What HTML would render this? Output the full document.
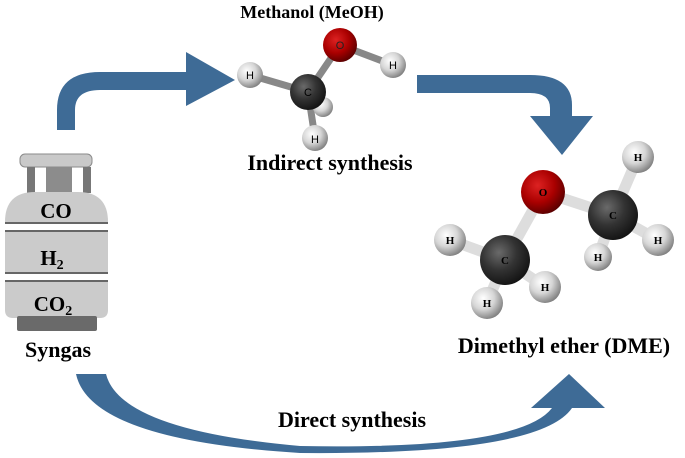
<!DOCTYPE html>
<html><head><meta charset="utf-8"><style>
html,body{margin:0;padding:0;background:#fff;width:685px;height:458px;overflow:hidden}
</style></head><body>
<svg width="685" height="458" viewBox="0 0 685 458" xmlns="http://www.w3.org/2000/svg" font-family="Liberation Serif, serif" font-weight="bold">
<defs>
<radialGradient id="gH" cx="0.38" cy="0.35" r="0.7"><stop offset="0" stop-color="#ffffff"/><stop offset="0.5" stop-color="#d6d6d6"/><stop offset="1" stop-color="#7a7a7a"/></radialGradient>
<radialGradient id="gC" cx="0.38" cy="0.35" r="0.7"><stop offset="0" stop-color="#6a6a6a"/><stop offset="0.5" stop-color="#333"/><stop offset="1" stop-color="#111"/></radialGradient>
<radialGradient id="gO" cx="0.38" cy="0.35" r="0.7"><stop offset="0" stop-color="#d22"/><stop offset="0.55" stop-color="#a00"/><stop offset="1" stop-color="#500"/></radialGradient>
</defs>

<g fill="#3e6b96">
<path d="M57,130 L57,110 Q57,72 100,72 L186,72 L186,52 L235,80 L186,106 L186,90 L100,90 Q75,90 75,110 L75,130 Z"/>
<path d="M417,75 L530,75 Q572,75 572,105 L572,116 L593,116 L562,155 L530,116 L550,116 L550,108 Q550,93 530,93 L417,93 Z"/>
<path d="M76,374 L106,374 Q120,430 300,446 Q520,450 552,408 L531,408 L569,374 L605,408 L572,408 Q540,455 300,453 Q90,440 76,374 Z"/>
</g>

<rect x="20" y="154" width="72" height="13" rx="5" fill="#c9c9c9" stroke="#8a8a8a"/>
<rect x="27" y="167" width="8" height="26" fill="#777"/>
<rect x="83" y="167" width="8" height="26" fill="#777"/>
<rect x="46" y="167" width="26" height="28" fill="#8c8c8c"/>
<path d="M5,222 Q5,192 35,192 L78,192 Q108,192 108,222 L108,310 Q108,318 100,318 L13,318 Q5,318 5,310 Z" fill="#cbcbcb"/>
<rect x="17" y="316" width="80" height="15" rx="2" fill="#6a6a6a"/>
<rect x="5" y="224" width="103" height="6" fill="#fff"/>
<line x1="5" y1="223" x2="108" y2="223" stroke="#444" stroke-width="1.5"/>
<line x1="5" y1="231" x2="108" y2="231" stroke="#444" stroke-width="1.5"/>
<rect x="5" y="274" width="103" height="6" fill="#fff"/>
<line x1="5" y1="273" x2="108" y2="273" stroke="#444" stroke-width="1.5"/>
<line x1="5" y1="281" x2="108" y2="281" stroke="#444" stroke-width="1.5"/>
<text x="56" y="218" font-size="21" text-anchor="middle">CO</text>
<text x="52" y="265" font-size="21" text-anchor="middle">H<tspan font-size="14" dy="4">2</tspan></text>
<text x="53" y="311" font-size="21" text-anchor="middle">CO<tspan font-size="14" dy="4">2</tspan></text>
<text x="58" y="357" font-size="22" text-anchor="middle">Syngas</text>

<g stroke="#888" stroke-width="7" stroke-linecap="round">
<line x1="250" y1="75" x2="308" y2="92"/><line x1="308" y1="92" x2="340" y2="45"/>
<line x1="340" y1="45" x2="393" y2="65"/><line x1="308" y1="92" x2="315" y2="138"/><line x1="308" y1="92" x2="323" y2="107"/>
</g>
<circle cx="323" cy="107" r="10" fill="url(#gH)"/>
<circle cx="250" cy="75" r="13" fill="url(#gH)"/>
<circle cx="393" cy="65" r="13" fill="url(#gH)"/>
<circle cx="315" cy="138" r="13" fill="url(#gH)"/>
<circle cx="308" cy="92" r="18" fill="url(#gC)"/>
<circle cx="340" cy="45" r="17" fill="url(#gO)"/>
<g font-family="Liberation Sans, sans-serif" font-weight="normal" font-size="11" text-anchor="middle">
<text x="250" y="79">H</text><text x="393" y="69">H</text><text x="315" y="143">H</text>
<text x="308" y="96">C</text><text x="340" y="49" fill="#222">O</text>
</g>
<text x="312" y="18" font-size="18" text-anchor="middle">Methanol (MeOH)</text>
<text x="330" y="170" font-size="22" text-anchor="middle">Indirect synthesis</text>

<g stroke="#ddd" stroke-width="11" stroke-linecap="round">
<line x1="543" y1="192" x2="613" y2="215"/><line x1="543" y1="192" x2="505" y2="260"/>
<line x1="613" y1="215" x2="638" y2="157"/><line x1="613" y1="215" x2="658" y2="240"/><line x1="613" y1="215" x2="598" y2="257"/>
<line x1="505" y1="260" x2="450" y2="240"/><line x1="505" y1="260" x2="545" y2="287"/><line x1="505" y1="260" x2="487" y2="303"/>
</g>
<circle cx="638" cy="157" r="16" fill="url(#gH)"/>
<circle cx="658" cy="240" r="16" fill="url(#gH)"/>
<circle cx="598" cy="257" r="14" fill="url(#gH)"/>
<circle cx="450" cy="240" r="16" fill="url(#gH)"/>
<circle cx="613" cy="215" r="25" fill="url(#gC)"/>
<circle cx="505" cy="260" r="25" fill="url(#gC)"/>
<circle cx="545" cy="287" r="16" fill="url(#gH)"/>
<circle cx="487" cy="303" r="16" fill="url(#gH)"/>
<circle cx="543" cy="192" r="22" fill="url(#gO)"/>
<g font-size="11" text-anchor="middle">
<text x="638" y="161">H</text><text x="658" y="244">H</text><text x="598" y="261">H</text><text x="450" y="244">H</text>
<text x="545" y="291">H</text><text x="487" y="307">H</text><text x="613" y="219">C</text><text x="505" y="264">C</text><text x="543" y="196">O</text>
</g>
<text x="564" y="353" font-size="22" text-anchor="middle">Dimethyl ether (DME)</text>
<text x="352" y="427" font-size="22" text-anchor="middle">Direct synthesis</text>
</svg>
</body></html>
